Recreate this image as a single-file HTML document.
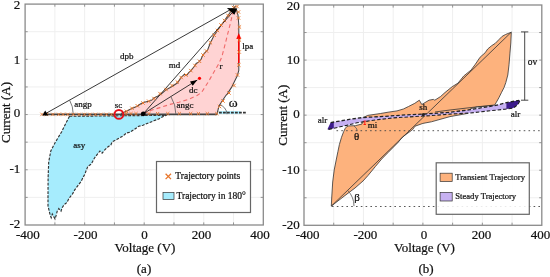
<!DOCTYPE html>
<html><head><meta charset="utf-8"><style>
html,body{margin:0;padding:0;background:#fff;width:550px;height:277px;overflow:hidden}
svg{display:block;will-change:transform;filter:blur(0.45px)}
</style></head><body>
<svg width="550" height="277" viewBox="0 0 550 277" font-family='"Liberation Serif", serif'>
<rect width="550" height="277" fill="#fff"/>
<line x1="54.88" y1="4.1" x2="54.88" y2="225.0" stroke="#efefef" stroke-width="1"/>
<line x1="25.1" y1="31.71" x2="263.3" y2="31.71" stroke="#efefef" stroke-width="1"/>
<line x1="84.65" y1="4.1" x2="84.65" y2="225.0" stroke="#efefef" stroke-width="1"/>
<line x1="25.1" y1="59.33" x2="263.3" y2="59.33" stroke="#efefef" stroke-width="1"/>
<line x1="114.43" y1="4.1" x2="114.43" y2="225.0" stroke="#efefef" stroke-width="1"/>
<line x1="25.1" y1="86.94" x2="263.3" y2="86.94" stroke="#efefef" stroke-width="1"/>
<line x1="144.20" y1="4.1" x2="144.20" y2="225.0" stroke="#efefef" stroke-width="1"/>
<line x1="25.1" y1="114.55" x2="263.3" y2="114.55" stroke="#efefef" stroke-width="1"/>
<line x1="173.97" y1="4.1" x2="173.97" y2="225.0" stroke="#efefef" stroke-width="1"/>
<line x1="25.1" y1="142.16" x2="263.3" y2="142.16" stroke="#efefef" stroke-width="1"/>
<line x1="203.75" y1="4.1" x2="203.75" y2="225.0" stroke="#efefef" stroke-width="1"/>
<line x1="25.1" y1="169.78" x2="263.3" y2="169.78" stroke="#efefef" stroke-width="1"/>
<line x1="233.53" y1="4.1" x2="233.53" y2="225.0" stroke="#efefef" stroke-width="1"/>
<line x1="25.1" y1="197.39" x2="263.3" y2="197.39" stroke="#efefef" stroke-width="1"/>
<polygon points="69.5,116.3 66.0,123.0 61.7,131.7 55.2,142.5 50.8,151.0 48.7,162.0 48.4,170.0 48.1,178.0 48.0,195.0 48.0,205.8 49.0,210.2 50.1,215.0 51.2,217.7 52.3,214.0 53.4,216.1 55.0,218.8 56.1,215.6 57.2,211.2 58.8,208.5 59.9,210.2 61.0,211.2 62.0,208.0 63.7,205.3 65.3,203.7 66.9,202.6 68.5,199.3 70.7,196.1 72.0,195.0 74.7,189.9 77.9,185.6 81.2,181.2 83.3,176.9 84.8,174.3 86.4,169.9 88.0,166.1 91.3,164.0 94.5,158.0 97.8,153.7 99.9,151.0 102.1,153.1 104.3,150.4 107.5,147.2 110.8,145.0 112.3,141.8 116.7,139.6 123.2,135.8 126.4,133.1 130.0,132.2 134.3,129.5 138.7,126.3 143.0,125.2 148.4,123.0 153.8,120.8 159.3,118.7 164.7,115.6 166.9,115.3" fill="#a6ecfd" stroke="#333" stroke-width="1.15" stroke-dasharray="2.8,1.4"/>
<line x1="218.6" y1="112.5" x2="240.5" y2="112.5" stroke="#a6ecfd" stroke-width="2.6"/>
<line x1="219" y1="112.6" x2="246.7" y2="112.6" stroke="#333" stroke-width="1.7" stroke-dasharray="2.8,1.2"/>
<polygon points="120.9,113.6 126.4,111.3 131.8,108.5 137.3,106.3 140.0,104.3 143.0,102.6 148.7,101.2 151.5,100.4 153.9,97.9 157.0,96.6 160.8,94.3 166.0,89.9 172.0,86.5 177.3,83.0 181.1,77.6 184.3,74.4 186.5,75.5 188.7,72.7 190.8,70.6 194.1,66.8 196.2,63.5 199.0,61.9 201.1,59.2 202.7,55.4 205.5,52.2 207.6,50.0 210.4,42.7 214.2,35.2 219.3,27.6 223.1,22.5 227.0,17.0 230.0,12.5 233.5,9.0 236.5,10.0 238.0,15.0 238.8,25.0 238.8,45.0 238.8,63.0 238.8,70.4 237.2,76.1 234.7,81.0 231.5,87.4 227.4,93.9 226.2,95.0 221.8,101.5 219.1,105.9 218.0,110.0 217.0,114.0" fill="#ffd3d3" stroke="none"/>
<polyline points="120.9,113.6 126.4,111.3 131.8,108.5 137.3,106.3 140.0,104.3 143.0,102.6 148.7,101.2 151.5,100.4 153.9,97.9 157.0,96.6 160.8,94.3 166.0,89.9 172.0,86.5 177.3,83.0 181.1,77.6 184.3,74.4 186.5,75.5 188.7,72.7 190.8,70.6 194.1,66.8 196.2,63.5 199.0,61.9 201.1,59.2 202.7,55.4 205.5,52.2 207.6,50.0 210.4,42.7 214.2,35.2 219.3,27.6 223.1,22.5 227.0,17.0 230.0,12.5 233.5,9.0 236.5,10.0 238.0,15.0 238.8,25.0 238.8,45.0 238.8,63.0 238.8,70.4 237.2,76.1 234.7,81.0 231.5,87.4 227.4,93.9 226.2,95.0 221.8,101.5 219.1,105.9 218.0,110.0 217.0,114.0" fill="none" stroke="#444" stroke-width="1.05"/>
<line x1="45" y1="114.4" x2="217.2" y2="114.4" stroke="#444" stroke-width="1.6"/>
<polyline points="143.5,113.7 150.0,110.6 160.0,107.6 170.0,104.4 179.0,102.2 188.1,99.5 197.1,95.4 201.5,92.5 208.0,82.4 213.8,72.3 218.8,63.7 221.8,57.0 225.0,44.7 228.5,30.8 231.9,16.9 233.0,12.0" fill="none" stroke="#f06a6a" stroke-width="1.1" stroke-dasharray="4,3"/>
<line x1="45.2" y1="113.8" x2="236" y2="6.5" stroke="#222" stroke-width="0.9"/>
<line x1="143.3" y1="113.8" x2="236" y2="8.3" stroke="#222" stroke-width="0.9"/>
<line x1="143.3" y1="113.8" x2="197.3" y2="80" stroke="#222" stroke-width="0.9"/>
<polygon points="197.3,80.0 192.7,85.8 190.0,81.6" fill="#000"/>
<circle cx="199.5" cy="78.3" r="1.6" fill="#f00"/>
<line x1="238.8" y1="63" x2="238.8" y2="38" stroke="#f00" stroke-width="1.5"/>
<polygon points="238.8,33.1 241.3,39.1 236.3,39.1" fill="#f00"/>
<path d="M73.2,113.8 A28,28 0 0 0 69.6,100.1" fill="none" stroke="#555" stroke-width="0.8"/>
<path d="M175.8,113.8 A32.5,32.5 0 0 0 170.9,96.6" fill="none" stroke="#555" stroke-width="0.8"/>
<path d="M226.9,114.2 A9.7,9.7 0 0 0 219.2,104.7" fill="none" stroke="#555" stroke-width="0.8"/>
<circle cx="143.3" cy="113.8" r="2.4" fill="#000"/>
<circle cx="118.9" cy="114.4" r="4.4" fill="none" stroke="#e8101a" stroke-width="1.9"/>
<path d="M40.3,112.7L43.7,116.1M40.3,116.1L43.7,112.7" stroke="#e8762c" stroke-width="0.85" fill="none"/>
<path d="M45.0,112.7L48.4,116.1M45.0,116.1L48.4,112.7" stroke="#e8762c" stroke-width="0.85" fill="none"/>
<path d="M51.2,112.7L54.6,116.1M51.2,116.1L54.6,112.7" stroke="#e8762c" stroke-width="0.85" fill="none"/>
<path d="M57.0,112.7L60.4,116.1M57.0,116.1L60.4,112.7" stroke="#e8762c" stroke-width="0.85" fill="none"/>
<path d="M61.4,112.7L64.8,116.1M61.4,116.1L64.8,112.7" stroke="#e8762c" stroke-width="0.85" fill="none"/>
<path d="M66.1,112.7L69.5,116.1M66.1,116.1L69.5,112.7" stroke="#e8762c" stroke-width="0.85" fill="none"/>
<path d="M71.6,112.7L75.0,116.1M71.6,116.1L75.0,112.7" stroke="#e8762c" stroke-width="0.85" fill="none"/>
<path d="M77.3,112.7L80.7,116.1M77.3,116.1L80.7,112.7" stroke="#e8762c" stroke-width="0.85" fill="none"/>
<path d="M82.8,112.7L86.2,116.1M82.8,116.1L86.2,112.7" stroke="#e8762c" stroke-width="0.85" fill="none"/>
<path d="M88.3,112.7L91.7,116.1M88.3,116.1L91.7,112.7" stroke="#e8762c" stroke-width="0.85" fill="none"/>
<path d="M93.8,112.7L97.2,116.1M93.8,116.1L97.2,112.7" stroke="#e8762c" stroke-width="0.85" fill="none"/>
<path d="M99.3,112.7L102.7,116.1M99.3,116.1L102.7,112.7" stroke="#e8762c" stroke-width="0.85" fill="none"/>
<path d="M104.8,112.7L108.2,116.1M104.8,116.1L108.2,112.7" stroke="#e8762c" stroke-width="0.85" fill="none"/>
<path d="M109.8,112.7L113.2,116.1M109.8,116.1L113.2,112.7" stroke="#e8762c" stroke-width="0.85" fill="none"/>
<path d="M124.4,112.0L127.6,115.2M124.4,115.2L127.6,112.0" stroke="#e8762c" stroke-width="0.9" fill="none"/>
<path d="M129.4,112.0L132.6,115.2M129.4,115.2L132.6,112.0" stroke="#e8762c" stroke-width="0.9" fill="none"/>
<path d="M134.4,112.0L137.6,115.2M134.4,115.2L137.6,112.0" stroke="#e8762c" stroke-width="0.9" fill="none"/>
<path d="M147.4,112.0L150.6,115.2M147.4,115.2L150.6,112.0" stroke="#e8762c" stroke-width="0.9" fill="none"/>
<path d="M156.0,112.0L159.2,115.2M156.0,115.2L159.2,112.0" stroke="#e8762c" stroke-width="0.9" fill="none"/>
<path d="M166.2,112.0L169.4,115.2M166.2,115.2L169.4,112.0" stroke="#e8762c" stroke-width="0.9" fill="none"/>
<path d="M177.7,112.0L180.9,115.2M177.7,115.2L180.9,112.0" stroke="#e8762c" stroke-width="0.9" fill="none"/>
<path d="M189.1,112.0L192.3,115.2M189.1,115.2L192.3,112.0" stroke="#e8762c" stroke-width="0.9" fill="none"/>
<path d="M196.8,112.0L200.0,115.2M196.8,115.2L200.0,112.0" stroke="#e8762c" stroke-width="0.9" fill="none"/>
<path d="M205.7,112.0L208.9,115.2M205.7,115.2L208.9,112.0" stroke="#e8762c" stroke-width="0.9" fill="none"/>
<path d="M215.2,112.0L218.4,115.2M215.2,115.2L218.4,112.0" stroke="#e8762c" stroke-width="0.9" fill="none"/>
<path d="M124.7,109.6L128.1,113.0M124.7,113.0L128.1,109.6" stroke="#e8762c" stroke-width="0.95" fill="none"/>
<path d="M130.3,106.6L133.7,110.0M130.3,110.0L133.7,106.6" stroke="#e8762c" stroke-width="0.95" fill="none"/>
<path d="M135.6,104.1L139.0,107.5M135.6,107.5L139.0,104.1" stroke="#e8762c" stroke-width="0.95" fill="none"/>
<path d="M141.3,101.3L144.7,104.7M141.3,104.7L144.7,101.3" stroke="#e8762c" stroke-width="0.95" fill="none"/>
<path d="M147.0,99.5L150.4,102.9M147.0,102.9L150.4,99.5" stroke="#e8762c" stroke-width="0.95" fill="none"/>
<path d="M152.3,96.8L155.7,100.2M152.3,100.2L155.7,96.8" stroke="#e8762c" stroke-width="0.95" fill="none"/>
<path d="M158.3,91.9L161.7,95.3M158.3,95.3L161.7,91.9" stroke="#e8762c" stroke-width="0.95" fill="none"/>
<path d="M164.3,87.8L167.7,91.2M164.3,91.2L167.7,87.8" stroke="#e8762c" stroke-width="0.95" fill="none"/>
<path d="M170.3,83.8L173.7,87.2M170.3,87.2L173.7,83.8" stroke="#e8762c" stroke-width="0.95" fill="none"/>
<path d="M175.6,80.3L179.0,83.7M175.6,83.7L179.0,80.3" stroke="#e8762c" stroke-width="0.95" fill="none"/>
<path d="M179.5,75.8L182.9,79.2M179.5,79.2L182.9,75.8" stroke="#e8762c" stroke-width="0.95" fill="none"/>
<path d="M184.3,73.3L187.7,76.7M184.3,76.7L187.7,73.3" stroke="#e8762c" stroke-width="0.95" fill="none"/>
<path d="M189.1,68.9L192.5,72.3M189.1,72.3L192.5,68.9" stroke="#e8762c" stroke-width="0.95" fill="none"/>
<path d="M193.3,63.8L196.7,67.2M193.3,67.2L196.7,63.8" stroke="#e8762c" stroke-width="0.95" fill="none"/>
<path d="M197.8,59.6L201.2,63.0M197.8,63.0L201.2,59.6" stroke="#e8762c" stroke-width="0.95" fill="none"/>
<path d="M201.3,53.3L204.7,56.7M201.3,56.7L204.7,53.3" stroke="#e8762c" stroke-width="0.95" fill="none"/>
<path d="M204.8,49.3L208.2,52.7M204.8,52.7L208.2,49.3" stroke="#e8762c" stroke-width="0.95" fill="none"/>
<path d="M208.7,41.0L212.1,44.4M208.7,44.4L212.1,41.0" stroke="#e8762c" stroke-width="0.95" fill="none"/>
<path d="M212.5,33.5L215.9,36.9M212.5,36.9L215.9,33.5" stroke="#e8762c" stroke-width="0.95" fill="none"/>
<path d="M215.8,28.8L219.2,32.2M215.8,32.2L219.2,28.8" stroke="#e8762c" stroke-width="0.95" fill="none"/>
<path d="M219.3,23.3L222.7,26.7M219.3,26.7L222.7,23.3" stroke="#e8762c" stroke-width="0.95" fill="none"/>
<path d="M222.8,18.8L226.2,22.2M222.8,22.2L226.2,18.8" stroke="#e8762c" stroke-width="0.95" fill="none"/>
<path d="M226.3,13.8L229.7,17.2M226.3,17.2L229.7,13.8" stroke="#e8762c" stroke-width="0.95" fill="none"/>
<path d="M229.3,8.8L232.7,12.2M229.3,12.2L232.7,8.8" stroke="#e8762c" stroke-width="0.95" fill="none"/>
<path d="M231.8,5.8L235.2,9.2M231.8,9.2L235.2,5.8" stroke="#e8762c" stroke-width="0.95" fill="none"/>
<path d="M235.3,4.8L238.7,8.2M235.3,8.2L238.7,4.8" stroke="#e8762c" stroke-width="0.95" fill="none"/>
<path d="M236.8,10.3L240.2,13.7M236.8,13.7L240.2,10.3" stroke="#e8762c" stroke-width="0.95" fill="none"/>
<path d="M236.8,16.3L240.2,19.7M236.8,19.7L240.2,16.3" stroke="#e8762c" stroke-width="0.95" fill="none"/>
<path d="M237.7,25.3L241.1,28.7M237.7,28.7L241.1,25.3" stroke="#e8762c" stroke-width="0.95" fill="none"/>
<path d="M237.7,38.3L241.1,41.7M237.7,41.7L241.1,38.3" stroke="#e8762c" stroke-width="0.95" fill="none"/>
<path d="M237.5,50.3L240.9,53.7M237.5,53.7L240.9,50.3" stroke="#e8762c" stroke-width="0.95" fill="none"/>
<path d="M237.1,63.3L240.5,66.7M237.1,66.7L240.5,63.3" stroke="#e8762c" stroke-width="0.95" fill="none"/>
<path d="M235.8,73.3L239.2,76.7M235.8,76.7L239.2,73.3" stroke="#e8762c" stroke-width="0.95" fill="none"/>
<path d="M232.3,83.8L235.7,87.2M232.3,87.2L235.7,83.8" stroke="#e8762c" stroke-width="0.95" fill="none"/>
<path d="M227.3,91.3L230.7,94.7M227.3,94.7L230.7,91.3" stroke="#e8762c" stroke-width="0.95" fill="none"/>
<path d="M221.3,99.3L224.7,102.7M221.3,102.7L224.7,99.3" stroke="#e8762c" stroke-width="0.95" fill="none"/>
<path d="M217.8,104.8L221.2,108.2M217.8,108.2L221.2,104.8" stroke="#e8762c" stroke-width="0.95" fill="none"/>
<polygon points="226.9,8.1 237.3,8.5 234.3,14.8" fill="#000"/>
<polygon points="42.3,115.6 45.2,110.5 48.2,115.6" fill="#000"/>
<text x="126.8" y="58.7" font-size="9" text-anchor="middle" fill="#111" stroke="#111" stroke-width="0.22" >dpb</text>
<text x="174.5" y="68.1" font-size="9" text-anchor="middle" fill="#111" stroke="#111" stroke-width="0.22" >md</text>
<text x="193.2" y="93.2" font-size="9" text-anchor="middle" fill="#111" stroke="#111" stroke-width="0.22" >dc</text>
<text x="220.9" y="68.5" font-size="9" text-anchor="middle" fill="#111" stroke="#111" stroke-width="0.22" >r</text>
<text x="185" y="108.2" font-size="9" text-anchor="middle" fill="#111" stroke="#111" stroke-width="0.22" >angc</text>
<text x="83" y="107.3" font-size="9" text-anchor="middle" fill="#111" stroke="#111" stroke-width="0.22" >angp</text>
<text x="118.5" y="108" font-size="9" text-anchor="middle" fill="#111" stroke="#111" stroke-width="0.22" >sc</text>
<text x="242.3" y="48.6" font-size="9" text-anchor="start" fill="#111" stroke="#111" stroke-width="0.22" >lpa</text>
<text x="79.3" y="147.9" font-size="9" text-anchor="middle" fill="#111" stroke="#111" stroke-width="0.22" >asy</text>
<text x="233.3" y="106.9" font-size="13.5" text-anchor="middle" fill="#111" stroke="#111" stroke-width="0.22" >ω</text>
<rect x="156.5" y="161.5" width="94" height="51" fill="#fff" stroke="#666" stroke-width="1.2"/>
<path d="M165.6,173.7L171.0,179.1M165.6,179.1L171.0,173.7" stroke="#e8762c" stroke-width="1.3" fill="none"/>
<text x="175.3" y="179" font-size="9.5" text-anchor="start" fill="#111" stroke="#111" stroke-width="0.22" >Trajectory points</text>
<rect x="163" y="192.5" width="11" height="7" fill="#a6ecfd" stroke="#333" stroke-width="0.7"/>
<text x="176.5" y="199" font-size="9.5" text-anchor="start" fill="#111" stroke="#111" stroke-width="0.22" >Trajectory in 180°</text>
<rect x="25.1" y="4.1" width="238.2" height="220.9" fill="none" stroke="#8a8a8a" stroke-width="1.3"/>
<path d="M54.88,225.0v-2.6M54.88,4.1v2.6" stroke="#8a8a8a" stroke-width="0.9"/>
<path d="M25.1,31.71h2.6M263.3,31.71h-2.6" stroke="#8a8a8a" stroke-width="0.9"/>
<path d="M84.65,225.0v-2.6M84.65,4.1v2.6" stroke="#8a8a8a" stroke-width="0.9"/>
<path d="M25.1,59.33h2.6M263.3,59.33h-2.6" stroke="#8a8a8a" stroke-width="0.9"/>
<path d="M114.43,225.0v-2.6M114.43,4.1v2.6" stroke="#8a8a8a" stroke-width="0.9"/>
<path d="M25.1,86.94h2.6M263.3,86.94h-2.6" stroke="#8a8a8a" stroke-width="0.9"/>
<path d="M144.20,225.0v-2.6M144.20,4.1v2.6" stroke="#8a8a8a" stroke-width="0.9"/>
<path d="M25.1,114.55h2.6M263.3,114.55h-2.6" stroke="#8a8a8a" stroke-width="0.9"/>
<path d="M173.97,225.0v-2.6M173.97,4.1v2.6" stroke="#8a8a8a" stroke-width="0.9"/>
<path d="M25.1,142.16h2.6M263.3,142.16h-2.6" stroke="#8a8a8a" stroke-width="0.9"/>
<path d="M203.75,225.0v-2.6M203.75,4.1v2.6" stroke="#8a8a8a" stroke-width="0.9"/>
<path d="M25.1,169.78h2.6M263.3,169.78h-2.6" stroke="#8a8a8a" stroke-width="0.9"/>
<path d="M233.53,225.0v-2.6M233.53,4.1v2.6" stroke="#8a8a8a" stroke-width="0.9"/>
<path d="M25.1,197.39h2.6M263.3,197.39h-2.6" stroke="#8a8a8a" stroke-width="0.9"/>
<text x="20.3" y="9" font-size="13" text-anchor="end" fill="#111" stroke="#111" stroke-width="0.22" >2</text>
<text x="20.3" y="64.2" font-size="13" text-anchor="end" fill="#111" stroke="#111" stroke-width="0.22" >1</text>
<text x="20.3" y="117.3" font-size="13" text-anchor="end" fill="#111" stroke="#111" stroke-width="0.22" >0</text>
<text x="20.3" y="173.3" font-size="13" text-anchor="end" fill="#111" stroke="#111" stroke-width="0.22" >-1</text>
<text x="20.3" y="227.6" font-size="13" text-anchor="end" fill="#111" stroke="#111" stroke-width="0.22" >-2</text>
<text x="27.8" y="238.7" font-size="13" text-anchor="middle" fill="#111" stroke="#111" stroke-width="0.22" >-400</text>
<text x="85.5" y="238.7" font-size="13" text-anchor="middle" fill="#111" stroke="#111" stroke-width="0.22" >-200</text>
<text x="144.5" y="238.7" font-size="13" text-anchor="middle" fill="#111" stroke="#111" stroke-width="0.22" >0</text>
<text x="201.5" y="238.7" font-size="13" text-anchor="middle" fill="#111" stroke="#111" stroke-width="0.22" >200</text>
<text x="260" y="238.7" font-size="13" text-anchor="middle" fill="#111" stroke="#111" stroke-width="0.22" >400</text>
<text x="145" y="252.1" font-size="13" text-anchor="middle" fill="#111" stroke="#111" stroke-width="0.22" >Voltage (V)</text>
<text x="144" y="272.8" font-size="13" text-anchor="middle" fill="#111" stroke="#111" stroke-width="0.22" >(a)</text>
<text x="0" y="0" font-size="13" text-anchor="middle" fill="#111" stroke="#111" stroke-width="0.22" transform="translate(9.9,112.5) rotate(-90)">Current (A)</text>
<line x1="333.73" y1="5.0" x2="333.73" y2="225.3" stroke="#efefef" stroke-width="1"/>
<line x1="304.0" y1="32.54" x2="541.8" y2="32.54" stroke="#efefef" stroke-width="1"/>
<line x1="363.45" y1="5.0" x2="363.45" y2="225.3" stroke="#efefef" stroke-width="1"/>
<line x1="304.0" y1="60.08" x2="541.8" y2="60.08" stroke="#efefef" stroke-width="1"/>
<line x1="393.17" y1="5.0" x2="393.17" y2="225.3" stroke="#efefef" stroke-width="1"/>
<line x1="304.0" y1="87.61" x2="541.8" y2="87.61" stroke="#efefef" stroke-width="1"/>
<line x1="422.90" y1="5.0" x2="422.90" y2="225.3" stroke="#efefef" stroke-width="1"/>
<line x1="304.0" y1="115.15" x2="541.8" y2="115.15" stroke="#efefef" stroke-width="1"/>
<line x1="452.62" y1="5.0" x2="452.62" y2="225.3" stroke="#efefef" stroke-width="1"/>
<line x1="304.0" y1="142.69" x2="541.8" y2="142.69" stroke="#efefef" stroke-width="1"/>
<line x1="482.35" y1="5.0" x2="482.35" y2="225.3" stroke="#efefef" stroke-width="1"/>
<line x1="304.0" y1="170.23" x2="541.8" y2="170.23" stroke="#efefef" stroke-width="1"/>
<line x1="512.07" y1="5.0" x2="512.07" y2="225.3" stroke="#efefef" stroke-width="1"/>
<line x1="304.0" y1="197.76" x2="541.8" y2="197.76" stroke="#efefef" stroke-width="1"/>
<polygon points="331.3,206.1 331.7,198.0 332.7,182.0 334.2,170.0 335.8,162.0 336.6,158.0 337.9,151.7 339.4,144.5 341.5,137.3 343.7,131.5 345.3,128.3 346.8,126.6 348.8,125.9 355.3,125.7 362.0,124.0 362.6,117.9 367.7,115.4 380.5,113.5 388.1,112.2 397.0,110.9 403.4,109.0 408.5,106.5 414.8,103.3 419.3,100.2 421.8,104.5 429.0,100.2 433.4,99.4 434.8,100.2 440.6,96.5 445.0,92.5 452.2,86.7 458.0,83.1 463.8,75.9 471.0,70.1 475.3,64.3 480.1,57.2 485.1,52.8 487.7,49.0 491.5,45.8 495.3,43.3 499.0,39.5 502.2,36.3 505.5,34.5 511.3,32.2 510.8,43.0 509.9,53.9 509.0,64.8 507.8,75.0 505.8,82.6 504.0,87.6 501.4,92.7 498.9,97.7 496.4,102.2 494.5,105.3 490.0,106.0 477.3,106.8 470.0,109.0 468.0,113.3 465.5,113.8 450.0,116.6 431.4,121.8 422.9,123.4 415.0,126.2 412.6,129.6 402.3,137.2 398.0,142.5 388.0,152.6 381.7,159.0 375.4,166.5 368.0,175.5 363.0,181.0 355.0,188.0 345.0,195.5" fill="#fdb27d" stroke="#333" stroke-width="0.8" stroke-linejoin="round"/>
<polyline points="494.5,105 477.3,106.8 450,110 435,112" fill="none" stroke="#333" stroke-width="0.8"/>
<line x1="331.3" y1="206.1" x2="511.3" y2="32.2" stroke="#333" stroke-width="0.8"/>
<polygon points="330.7,122.6 340.0,121.0 350.5,119.2 363.2,117.5 380.5,116.6 405.9,114.9 425.0,114.0 450.0,112.3 470.0,109.7 494.6,105.6 507.7,102.4 515.0,101.1 519.2,100.3 519.8,101.0 518.2,104.0 515.5,106.6 512.5,108.2 505.0,109.2 490.0,110.8 470.0,113.0 450.0,114.1 431.4,115.6 419.0,116.3 393.2,117.9 380.0,119.4 367.7,121.1 356.8,122.8 346.6,125.4 340.0,126.8 328.8,129.4 327.5,129.2" fill="#c7b1f2" stroke="none"/>
<defs><clipPath id="cl"><rect x="300" y="90" width="33.8" height="45"/></clipPath><clipPath id="cr"><rect x="506.4" y="90" width="30" height="30"/></clipPath></defs>
<polygon points="330.7,122.6 340.0,121.0 350.5,119.2 363.2,117.5 380.5,116.6 405.9,114.9 425.0,114.0 450.0,112.3 470.0,109.7 494.6,105.6 507.7,102.4 515.0,101.1 519.2,100.3 519.8,101.0 518.2,104.0 515.5,106.6 512.5,108.2 505.0,109.2 490.0,110.8 470.0,113.0 450.0,114.1 431.4,115.6 419.0,116.3 393.2,117.9 380.0,119.4 367.7,121.1 356.8,122.8 346.6,125.4 340.0,126.8 328.8,129.4 327.5,129.2" fill="#3d1c8c" clip-path="url(#cl)"/>
<polygon points="330.7,122.6 340.0,121.0 350.5,119.2 363.2,117.5 380.5,116.6 405.9,114.9 425.0,114.0 450.0,112.3 470.0,109.7 494.6,105.6 507.7,102.4 515.0,101.1 519.2,100.3 519.8,101.0 518.2,104.0 515.5,106.6 512.5,108.2 505.0,109.2 490.0,110.8 470.0,113.0 450.0,114.1 431.4,115.6 419.0,116.3 393.2,117.9 380.0,119.4 367.7,121.1 356.8,122.8 346.6,125.4 340.0,126.8 328.8,129.4 327.5,129.2" fill="#3d1c8c" clip-path="url(#cr)"/>
<polyline points="330.7,122.6 340.0,121.0 350.5,119.2 363.2,117.5 380.5,116.6 405.9,114.9 425.0,114.0 450.0,112.3 470.0,109.7 494.6,105.6 507.7,102.4 515.0,101.1 519.2,100.3" fill="none" stroke="#222" stroke-width="1.3" stroke-dasharray="3.5,2"/>
<polyline points="519.8,101.0 518.2,104.0 515.5,106.6 512.5,108.2 505.0,109.2 490.0,110.8 470.0,113.0 450.0,114.1 431.4,115.6 419.0,116.3 393.2,117.9 380.0,119.4 367.7,121.1 356.8,122.8 346.6,125.4 340.0,126.8 328.8,129.4 327.5,129.2" fill="none" stroke="#222" stroke-width="1.1" stroke-dasharray="3.5,2"/>
<circle cx="423.3" cy="114.6" r="1.6" fill="#222"/>
<line x1="336.5" y1="130.7" x2="541" y2="130.7" stroke="#444" stroke-width="0.9" stroke-dasharray="1.6,3.2"/>
<line x1="332" y1="206.5" x2="541" y2="206.5" stroke="#444" stroke-width="0.9" stroke-dasharray="1.6,3.2"/>
<path d="M363.5,121 L366,121 M364.8,121 L364.8,124.5 M363.5,124.5 L366,124.5" stroke="#f00" stroke-width="0.8" fill="none"/>
<path d="M521,31.9 L528.3,31.9 M524.7,31.9 L524.7,100.2 M521,100.2 L528.3,100.2" stroke="#333" stroke-width="0.9" fill="none"/>
<path d="M354.0,206.1 A22.7,22.7 0 0 0 347.6,190.3" fill="none" stroke="#555" stroke-width="0.8"/>
<path d="M354,126 Q357,128 357.3,130.6" fill="none" stroke="#555" stroke-width="0.8"/>
<text x="322.5" y="122.5" font-size="9" text-anchor="middle" fill="#111" stroke="#111" stroke-width="0.22" >alr</text>
<text x="515.4" y="116.9" font-size="9" text-anchor="middle" fill="#111" stroke="#111" stroke-width="0.22" >alr</text>
<text x="372.6" y="128" font-size="9" text-anchor="middle" fill="#111" stroke="#111" stroke-width="0.22" >mi</text>
<text x="423.3" y="110.3" font-size="9" text-anchor="middle" fill="#111" stroke="#111" stroke-width="0.22" >sh</text>
<text x="532.4" y="64.7" font-size="9.5" text-anchor="middle" fill="#111" stroke="#111" stroke-width="0.22" >ov</text>
<text x="356.6" y="139.8" font-size="11" text-anchor="middle" fill="#111" stroke="#111" stroke-width="0.22" >θ</text>
<text x="357" y="200.5" font-size="11" text-anchor="middle" fill="#111" stroke="#111" stroke-width="0.22" >β</text>
<rect x="436.2" y="162.8" width="93.1" height="51.5" fill="#fff" fill-opacity="0.88" stroke="#666" stroke-width="1.2"/>
<rect x="440.1" y="173.2" width="12.1" height="8.3" fill="#fdb27d" stroke="#333" stroke-width="0.7"/>
<text x="455.3" y="180" font-size="8.6" text-anchor="start" fill="#111" stroke="#111" stroke-width="0.22" >Transient Trajectory</text>
<rect x="440.1" y="192.4" width="12.1" height="8.6" fill="#c7b1f2" stroke="#333" stroke-width="0.7"/>
<text x="455.3" y="199.1" font-size="8.6" text-anchor="start" fill="#111" stroke="#111" stroke-width="0.22" >Steady Trajectory</text>
<rect x="304.0" y="5.0" width="237.8" height="220.3" fill="none" stroke="#8a8a8a" stroke-width="1.3"/>
<path d="M333.73,225.3v-2.6M333.73,5.0v2.6" stroke="#8a8a8a" stroke-width="0.9"/>
<path d="M304.0,32.54h2.6M541.8,32.54h-2.6" stroke="#8a8a8a" stroke-width="0.9"/>
<path d="M363.45,225.3v-2.6M363.45,5.0v2.6" stroke="#8a8a8a" stroke-width="0.9"/>
<path d="M304.0,60.08h2.6M541.8,60.08h-2.6" stroke="#8a8a8a" stroke-width="0.9"/>
<path d="M393.17,225.3v-2.6M393.17,5.0v2.6" stroke="#8a8a8a" stroke-width="0.9"/>
<path d="M304.0,87.61h2.6M541.8,87.61h-2.6" stroke="#8a8a8a" stroke-width="0.9"/>
<path d="M422.90,225.3v-2.6M422.90,5.0v2.6" stroke="#8a8a8a" stroke-width="0.9"/>
<path d="M304.0,115.15h2.6M541.8,115.15h-2.6" stroke="#8a8a8a" stroke-width="0.9"/>
<path d="M452.62,225.3v-2.6M452.62,5.0v2.6" stroke="#8a8a8a" stroke-width="0.9"/>
<path d="M304.0,142.69h2.6M541.8,142.69h-2.6" stroke="#8a8a8a" stroke-width="0.9"/>
<path d="M482.35,225.3v-2.6M482.35,5.0v2.6" stroke="#8a8a8a" stroke-width="0.9"/>
<path d="M304.0,170.23h2.6M541.8,170.23h-2.6" stroke="#8a8a8a" stroke-width="0.9"/>
<path d="M512.07,225.3v-2.6M512.07,5.0v2.6" stroke="#8a8a8a" stroke-width="0.9"/>
<path d="M304.0,197.76h2.6M541.8,197.76h-2.6" stroke="#8a8a8a" stroke-width="0.9"/>
<text x="299.7" y="10" font-size="13" text-anchor="end" fill="#111" stroke="#111" stroke-width="0.22" >20</text>
<text x="299.7" y="64.3" font-size="13" text-anchor="end" fill="#111" stroke="#111" stroke-width="0.22" >10</text>
<text x="299.7" y="117.8" font-size="13" text-anchor="end" fill="#111" stroke="#111" stroke-width="0.22" >0</text>
<text x="299.7" y="174.3" font-size="13" text-anchor="end" fill="#111" stroke="#111" stroke-width="0.22" >-10</text>
<text x="299.7" y="228.8" font-size="13" text-anchor="end" fill="#111" stroke="#111" stroke-width="0.22" >-20</text>
<text x="307.6" y="238.7" font-size="13" text-anchor="middle" fill="#111" stroke="#111" stroke-width="0.22" >-400</text>
<text x="365.3" y="238.7" font-size="13" text-anchor="middle" fill="#111" stroke="#111" stroke-width="0.22" >-200</text>
<text x="423.9" y="238.7" font-size="13" text-anchor="middle" fill="#111" stroke="#111" stroke-width="0.22" >0</text>
<text x="481.6" y="238.7" font-size="13" text-anchor="middle" fill="#111" stroke="#111" stroke-width="0.22" >200</text>
<text x="540.5" y="238.7" font-size="13" text-anchor="middle" fill="#111" stroke="#111" stroke-width="0.22" >400</text>
<text x="424.5" y="252.1" font-size="13" text-anchor="middle" fill="#111" stroke="#111" stroke-width="0.22" >Voltage (V)</text>
<text x="426" y="272.8" font-size="13" text-anchor="middle" fill="#111" stroke="#111" stroke-width="0.22" >(b)</text>
<text x="0" y="0" font-size="13" text-anchor="middle" fill="#111" stroke="#111" stroke-width="0.22" transform="translate(287.3,115.2) rotate(-90)">Current (A)</text>
</svg>
</body></html>
